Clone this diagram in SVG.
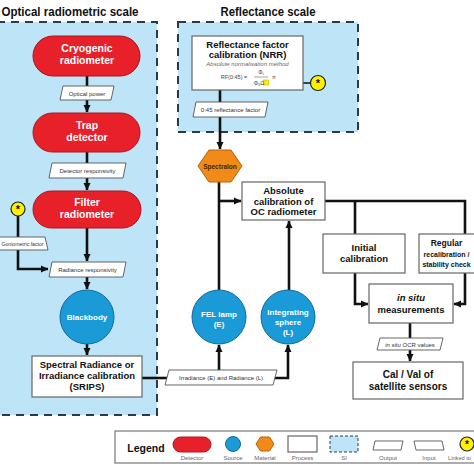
<svg xmlns="http://www.w3.org/2000/svg" width="474" height="474" viewBox="0 0 474 474">
<defs>
<marker id="ah" markerWidth="8" markerHeight="8" refX="7" refY="4" orient="auto" markerUnits="userSpaceOnUse">
<path d="M0,0.5 L7.5,4 L0,7.5 Z" fill="#111"/>
</marker>
<style>
text{font-family:"Liberation Sans",Arial,sans-serif}
.title{font-size:12.5px;font-weight:bold;fill:#111;text-anchor:middle}
.si{fill:#bde5f7;stroke:#2a3a4a;stroke-width:2;stroke-dasharray:8,6}
.det{fill:#e8202a;stroke:#a8161c;stroke-width:1}
.src{fill:#1a9ad6;stroke:#12699a;stroke-width:1}
.mat{fill:#f28a1a;stroke:#b5600a;stroke-width:1}
.proc{fill:#fff;stroke:#666;stroke-width:1.2}
.out{fill:#fff;stroke:#555;stroke-width:0.9}
.lnk{fill:#fff200;stroke:#222;stroke-width:1.2}
.wt{fill:#fff;font-weight:bold;text-anchor:middle}
.bt{fill:#111;font-weight:bold;text-anchor:middle;font-size:9.5px}
.st{fill:#333;text-anchor:middle;font-size:6px}
.lg{fill:#666;text-anchor:middle;font-size:6px}
.c{fill:none;stroke:#111;stroke-width:2.6}
</style>
</defs>
<rect width="474" height="474" fill="#fff"/>

<!-- SI regions -->
<g id="si-optical"><rect class="si" x="-3" y="22" width="160" height="393"/></g>
<g id="si-reflectance"><rect class="si" x="178" y="22" width="180" height="110"/></g>
<text class="title" x="70" y="16" textLength="137" lengthAdjust="spacingAndGlyphs">Optical radiometric scale</text>
<text class="title" x="268" y="16" textLength="95" lengthAdjust="spacingAndGlyphs">Reflectance scale</text>

<g id="connectors">
<path class="c" d="M87,76 V112" marker-end="url(#ah)"/>
<path class="c" d="M87,152 V190" marker-end="url(#ah)"/>
<path class="c" d="M87,228 V261" marker-end="url(#ah)"/>
<path class="c" d="M87,277 V289" marker-end="url(#ah)"/>
<path class="c" d="M87,344 V355" marker-end="url(#ah)"/>
<path class="c" d="M18,216 V269 H48" marker-end="url(#ah)"/>
<path class="c" d="M220,90 V149" marker-end="url(#ah)"/>
<path class="c" d="M219,182 V290"/>
<path class="c" d="M219,201 H241" marker-end="url(#ah)"/>
<path class="c" d="M289,290 V221" marker-end="url(#ah)"/>
<path class="c" d="M142,378 H168"/>
<path class="c" d="M219,370 V345" marker-end="url(#ah)"/>
<path class="c" d="M272,378 H288 V345" marker-end="url(#ah)"/>
<path class="c" d="M325,201 H465 V234"/>
<path class="c" d="M355,201 V234"/>
<path class="c" d="M355,273 V304 H368" marker-end="url(#ah)"/>
<path class="c" d="M465,273 V304 H454" marker-end="url(#ah)"/>
<path class="c" d="M410,323 V361" marker-end="url(#ah)"/>
<path d="M268,83 H311" fill="none" stroke="#111" stroke-width="1.5"/>
</g>

<g id="cryogenic-radiometer">
<rect class="det" x="33" y="36" width="107" height="40" rx="20"/>
<text class="wt" font-size="10.5" x="87" y="52">Cryogenic</text>
<text class="wt" font-size="10.5" x="87" y="64">radiometer</text>
</g>
<g id="optical-power">
<path class="out" d="M63,86 H114 L111,100 H60 Z"/>
<text class="st" x="87" y="95.5">Optical power</text>
</g>
<g id="trap-detector">
<rect class="det" x="33" y="113" width="107" height="39" rx="19.5"/>
<text class="wt" font-size="10.5" x="87" y="129">Trap</text>
<text class="wt" font-size="10.5" x="87" y="141">detector</text>
</g>
<g id="detector-responsivity">
<path class="out" d="M52,163 H126 L123,178 H49 Z"/>
<text class="st" x="87.5" y="173">Detector responsivity</text>
</g>
<g id="filter-radiometer">
<rect class="det" x="33" y="191" width="108" height="37" rx="18.5"/>
<text class="wt" font-size="10.5" x="87" y="206">Filter</text>
<text class="wt" font-size="10.5" x="87" y="218">radiometer</text>
</g>
<g id="linked-left">
<circle class="lnk" cx="18" cy="209" r="7"/>
<text x="18" y="213" text-anchor="middle" font-size="11" font-weight="bold" fill="#111">*</text>
</g>
<g id="goniometric-factor">
<path class="out" d="M-10,237 H45 L48,250 H-7 Z"/>
<text class="st" x="43.5" y="246" style="text-anchor:end" textLength="42" lengthAdjust="spacingAndGlyphs">Goniometric factor</text>
</g>
<g id="radiance-responsivity">
<path class="out" d="M52,262 H126 L123,277 H49 Z"/>
<text class="st" x="87.5" y="272">Radiance responsivity</text>
</g>
<g id="blackbody">
<circle class="src" cx="87" cy="317" r="27"/>
<text class="wt" font-size="8" x="87" y="320">Blackbody</text>
</g>
<g id="srips">
<rect class="proc" x="32" y="356" width="110" height="41"/>
<text class="bt" x="87" y="367.5">Spectral Radiance or</text>
<text class="bt" x="87" y="378.5">Irradiance calibration</text>
<text class="bt" x="87" y="389.5">(SRIPS)</text>
</g>

<g id="reflectance-factor-calibration">
<rect class="proc" x="192" y="36" width="111" height="54"/>
<text class="bt" x="247.5" y="47.5">Reflectance factor</text>
<text class="bt" x="247.5" y="58">calibration (NRR)</text>
<text x="247.5" y="66" text-anchor="middle" font-size="6" font-style="italic" fill="#666">Absolute normalisation method</text>
<text x="234" y="79" text-anchor="middle" font-size="5.5" fill="#444">RF(0:45) =</text>
<text x="261" y="74" text-anchor="middle" font-size="5.5" fill="#444">Φ<tspan font-size="4" dy="1">i</tspan></text>
<line x1="254" y1="77" x2="268" y2="77" stroke="#444" stroke-width="0.5"/>
<rect x="263.5" y="80" width="5" height="5" fill="#fff200" stroke="#c9a800" stroke-width="0.6"/>
<text x="259" y="85" text-anchor="middle" font-size="5.5" fill="#444">Φ<tspan font-size="4" dy="1">0</tspan><tspan dy="-1">Ω</tspan></text>
<text x="274" y="79" text-anchor="middle" font-size="5.5" fill="#444">π</text>
</g>
<g id="linked-refl">
<circle class="lnk" cx="318" cy="83" r="7.5"/>
<text x="318" y="87" text-anchor="middle" font-size="11" font-weight="bold" fill="#111">*</text>
</g>
<g id="reflectance-factor-output">
<path class="out" d="M196,102 H268 L265,117 H193 Z"/>
<text class="st" x="230.5" y="112">0:45 reflectance factor</text>
</g>
<g id="spectralon">
<path class="mat" d="M198,166 L209,150 H231 L242,166 L231,182 H209 Z"/>
<text x="220" y="168.5" text-anchor="middle" font-size="6.5" font-weight="bold" fill="#4a2400">Spectralon</text>
</g>
<g id="oc-calibration">
<rect class="proc" x="242" y="182" width="83" height="38"/>
<text class="bt" x="283.5" y="194">Absolute</text>
<text class="bt" x="283.5" y="204.5">calibration of</text>
<text class="bt" x="283.5" y="215">OC radiometer</text>
</g>
<g id="fel-lamp">
<circle class="src" cx="219" cy="317" r="27"/>
<text class="wt" font-size="8" x="219" y="317">FEL lamp</text>
<text class="wt" font-size="8" x="219" y="327">(E)</text>
</g>
<g id="integrating-sphere">
<circle class="src" cx="288" cy="317" r="27"/>
<text class="wt" font-size="8" x="288" y="315">Integrating</text>
<text class="wt" font-size="8" x="288" y="325">sphere</text>
<text class="wt" font-size="8" x="288" y="335">(L)</text>
</g>
<g id="irradiance-radiance">
<path class="out" d="M169,370 H277 L273,385 H165 Z"/>
<text class="st" x="221" y="380">Irradiance (E) and Radiance (L)</text>
</g>
<g id="initial-calibration">
<rect class="proc" x="323" y="234" width="82" height="39"/>
<text class="bt" x="364" y="251">Initial</text>
<text class="bt" x="364" y="262">calibration</text>
</g>
<g id="regular-recalibration">
<rect class="proc" x="419" y="234" width="100" height="39"/>
<text class="bt" x="446.5" y="246" style="font-size:8.5px">Regular</text>
<text class="bt" x="446.5" y="256.5" style="font-size:7px">recalibration /</text>
<text class="bt" x="446.5" y="266.5" style="font-size:7px">stability check</text>
</g>
<g id="in-situ-measurements">
<rect class="proc" x="369" y="284" width="84" height="39"/>
<text class="bt" x="411" y="301" font-style="italic">in situ</text>
<text class="bt" x="411" y="313">measurements</text>
</g>
<g id="in-situ-ocr">
<path class="out" d="M380,338 H443 L440,350 H377 Z"/>
<text class="st" x="410" y="346.5"><tspan font-style="italic">in situ</tspan> OCR values</text>
</g>
<g id="cal-val">
<rect class="proc" x="353" y="362" width="110" height="37"/>
<text class="bt" x="408" y="378" style="font-size:10px">Cal / Val of</text>
<text class="bt" x="408" y="390" style="font-size:10px">satellite sensors</text>
</g>

<g id="legend">
<rect x="115" y="431" width="370" height="32" fill="#fff" stroke="#777" stroke-width="1.2"/>
<text x="146" y="452" text-anchor="middle" font-size="10.5" font-weight="bold" fill="#111">Legend</text>
<rect class="det" x="173" y="437" width="38" height="15" rx="7.5"/>
<text class="lg" x="192" y="460">Detector</text>
<circle class="src" cx="233" cy="444" r="7.5"/>
<text class="lg" x="233" y="460">Source</text>
<path class="mat" d="M256,444 L260.5,437 H269.5 L274,444 L269.5,451 H260.5 Z"/>
<text class="lg" x="265" y="460">Material</text>
<rect class="proc" x="288" y="436" width="29" height="16"/>
<text class="lg" x="302.5" y="460">Process</text>
<rect x="330" y="436" width="28" height="16" fill="#bde5f7" stroke="#2a3a4a" stroke-width="1" stroke-dasharray="3,2"/>
<text class="lg" x="344" y="460">SI</text>
<path class="out" d="M375,441 H403 L401,450 H373 Z"/>
<text class="lg" x="388" y="460">Output</text>
<path class="out" d="M414,441 H442 L444,450 H416 Z"/>
<text class="lg" x="429" y="460">Input</text>
<circle class="lnk" cx="467" cy="444" r="7"/>
<text x="467" y="448" text-anchor="middle" font-size="10" font-weight="bold" fill="#111">*</text>
<text class="lg" x="448" y="460" style="text-anchor:start" textLength="23" lengthAdjust="spacingAndGlyphs">Linked to</text>
</g>
</svg>
